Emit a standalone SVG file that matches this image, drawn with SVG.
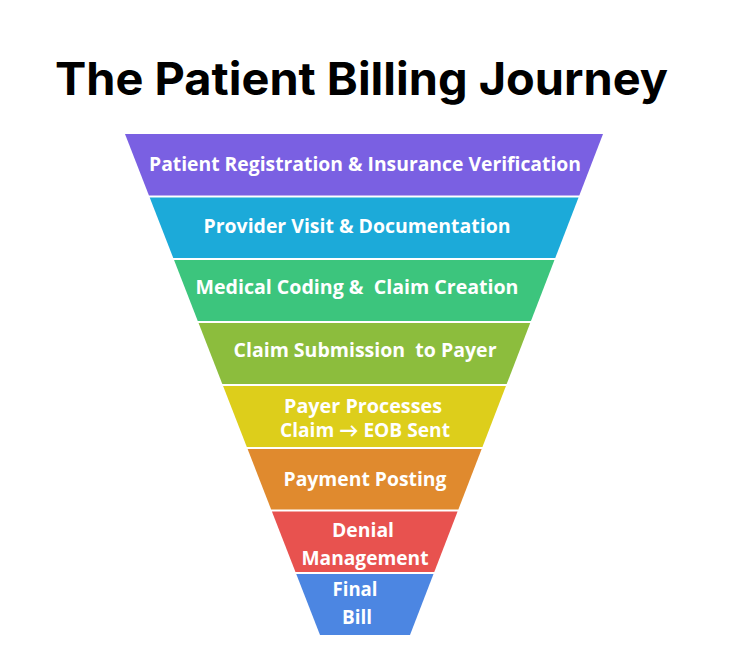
<svg xmlns="http://www.w3.org/2000/svg" width="730" height="670" viewBox="0 0 730 670">
<style>
.t{font-family:"Open Sans",Lato,"Liberation Sans",sans-serif;font-weight:700;font-size:19.5px;fill:#ffffff;text-anchor:middle}
.title{font-family:Inter,"Liberation Sans",sans-serif;font-weight:700;font-size:45px;fill:#000000}
</style>
<rect width="730" height="670" fill="#ffffff"/>
<text class="title" x="55" y="95" textLength="613" lengthAdjust="spacingAndGlyphs">The Patient Billing Journey</text>
<g id="band1"><polygon points="125,134 603,134 579.31,195.5 148.94,195.5" fill="#7A60E2"/>
<text class="t" x="365" y="171" textLength="432" lengthAdjust="spacingAndGlyphs">Patient Registration &amp; Insurance Verification</text></g>
<g id="band2"><polygon points="149.71,197.5 578.54,197.5 555.24,258 173.26,258" fill="#1CAAD9"/>
<text class="t" x="357" y="233" textLength="307" lengthAdjust="spacingAndGlyphs">Provider Visit &amp; Documentation</text></g>
<g id="band3"><polygon points="174.04,260 554.46,260 530.97,321 197.78,321" fill="#3CC57D"/>
<text class="t" x="357" y="294" textLength="323" lengthAdjust="spacingAndGlyphs" xml:space="preserve">Medical Coding &amp;  Claim Creation</text></g>
<g id="band4"><polygon points="198.56,323 530.2,323 506.7,384 222.3,384" fill="#8CBD3D"/>
<text class="t" x="365" y="357" textLength="263" lengthAdjust="spacingAndGlyphs" xml:space="preserve">Claim Submission  to Payer</text></g>
<g id="band5"><polygon points="223.08,386 505.93,386 482.43,447 246.82,447" fill="#DDCE1B"/>
<text class="t" x="363" y="412.5" textLength="158" lengthAdjust="spacingAndGlyphs">Payer Processes</text>
<text class="t" x="365" y="437" textLength="170" lengthAdjust="spacingAndGlyphs">Claim → EOB Sent</text></g>
<g id="band6"><polygon points="247.6,449 481.66,449 458.35,509.5 271.15,509.5" fill="#E08A2E"/>
<text class="t" x="365" y="486" textLength="163" lengthAdjust="spacingAndGlyphs">Payment Posting</text></g>
<g id="band7"><polygon points="271.92,511.5 457.58,511.5 434.28,572 295.47,572" fill="#E8524F"/>
<text class="t" x="363" y="537" textLength="62" lengthAdjust="spacingAndGlyphs">Denial</text>
<text class="t" x="365" y="565" textLength="127" lengthAdjust="spacingAndGlyphs">Management</text></g>
<g id="band8"><polygon points="296.25,574 433.51,574 410,635 320,635" fill="#4C86E2"/>
<text class="t" x="355" y="596" textLength="45" lengthAdjust="spacingAndGlyphs">Final</text>
<text class="t" x="357" y="624" textLength="30" lengthAdjust="spacingAndGlyphs">Bill</text></g>
<g id="connectors"></g>
</svg>
